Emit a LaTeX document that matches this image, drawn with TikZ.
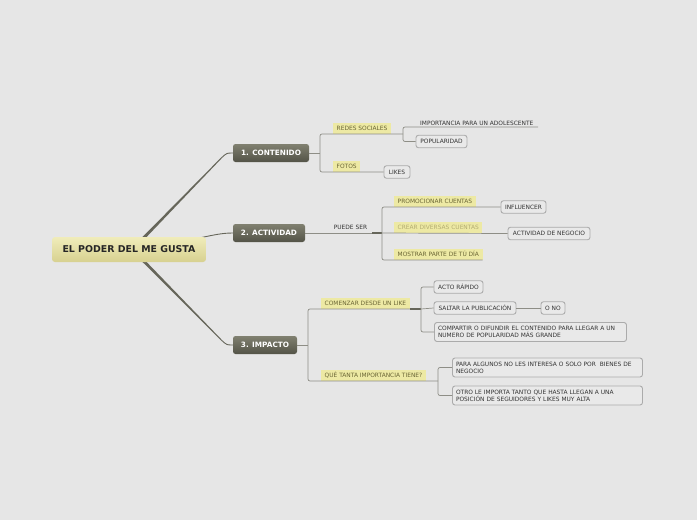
\documentclass[tikz,border=0pt]{standalone}
\usepackage{fontspec}
\setmainfont{DejaVu Sans}
\usetikzlibrary{calc}
\definecolor{bgc}{HTML}{E6E6E6}
\definecolor{lblfill}{HTML}{EDE9A4}
\definecolor{lbltext}{HTML}{6A6535}
\definecolor{fadetext}{HTML}{B3AC72}
\definecolor{boxfill}{HTML}{E9E9E9}
\definecolor{boxline}{HTML}{ABABAB}
\definecolor{lnc}{HTML}{8E8E86}
\definecolor{dark}{HTML}{333333}
\definecolor{trunkc}{HTML}{66665A}
\definecolor{mtop}{HTML}{808070}
\definecolor{mbot}{HTML}{535347}
\definecolor{ctop}{HTML}{F0ECBA}
\definecolor{cbot}{HTML}{D7D190}
\newcommand{\smallfont}{\fontsize{5.9}{7}\selectfont}
\tikzset{
  x=1pt, y=-1pt,
  central/.style={rounded corners=3pt, top color=ctop, bottom color=cbot, draw=none,
    minimum width=154pt, minimum height=25pt, inner sep=0pt,
    font=\bfseries\fontsize{9.4}{11}\selectfont, text=black!85},
  mainbox/.style={rounded corners=2.5pt, top color=mtop, bottom color=mbot, draw=none,
    minimum height=18pt, inner sep=0pt, text=white, font=\bfseries\fontsize{7.3}{9}\selectfont},
  lbl/.style={fill=lblfill, text=lbltext, font=\smallfont, inner xsep=3.5pt, inner ysep=0pt,
    minimum height=11pt, anchor=south west},
  plain/.style={text=dark, font=\smallfont, inner sep=0pt},
  gbox/.style={fill=boxfill, draw=boxline, line width=0.9pt, rounded corners=2.5pt,
    text=dark, font=\smallfont, inner xsep=3.5pt, inner ysep=0pt, minimum height=12.5pt},
  gbox2/.style={gbox, align=left, minimum height=19pt, text width=183pt},
  ln/.style={draw=lnc, line width=0.7pt},
  darkln/.style={draw=trunkc, line width=1.1pt},
  trunk/.style={draw=trunkc, line width=0.9pt},
  trunkfill/.style={fill=trunkc},
}
\begin{document}
\begin{tikzpicture}
\fill[bgc] (0,0) rectangle (697,520);
\useasboundingbox (0,0) rectangle (697,520);

% ---------- invisible main nodes first, so trunks can run beneath them
\node[central, opacity=0] (c) at (129,249.5) {EL PODER DEL ME GUSTA};
\node[mainbox, minimum width=76pt, opacity=0] (m1) at (271,153) {1. CONTENIDO};
\node[mainbox, minimum width=72pt, opacity=0] (m2) at (269,233) {2. ACTIVIDAD};
\node[mainbox, minimum width=64pt, opacity=0] (m3) at (265,345) {3. IMPACTO};

% ---------- trunk connectors (tapered)
\coordinate (c1) at ($(c.north west)+(91,2)$);
\coordinate (c1m) at ($(m1.west)+(-11,4.5)$);
\coordinate (c2) at ($(c.north east)+(-6,1)$);
\coordinate (c3) at ($(c.south west)+(91,-2)$);
\coordinate (c3m) at ($(m3.west)+(-11,-4.5)$);
\fill[trunkfill] ($(c1)+(-1.05,-1.05)$) -- ($(c1m)+(-0.33,-0.33)$) -- ($(c1m)+(0.33,0.33)$) -- ($(c1)+(1.05,1.05)$) -- cycle;
\draw[trunk] (c1m) .. controls ($(m1.west)+(-6,0)$) .. (m1.west);
\draw[trunk] (c2) .. controls ($(c2)+(14,-3)$) and ($(m2.west)+(-10,0)$) .. (m2.west);
\fill[trunkfill] ($(c3)+(1.05,-1.05)$) -- ($(c3m)+(0.33,-0.33)$) -- ($(c3m)+(-0.33,0.33)$) -- ($(c3)+(-1.05,1.05)$) -- cycle;
\draw[trunk] (c3m) .. controls ($(m3.west)+(-6,0)$) .. (m3.west);

% ---------- main nodes
\node[central] at (c) {EL PODER DEL ME GUSTA};
\node[mainbox, minimum width=76pt] at (m1) {1. CONTENIDO};
\node[mainbox, minimum width=72pt] at (m2) {2. ACTIVIDAD};
\node[mainbox, minimum width=64pt] at (m3) {3. IMPACTO};

% ---------- 1. CONTENIDO
\node[lbl] (l1) at (333,134) {REDES SOCIALES};
\node[lbl] (l2) at (333,172) {FOTOS};
\node[plain, anchor=south west] (imp) at (420,125.5) {IMPORTANCIA PARA UN ADOLESCENTE};
\node[gbox, minimum width=51pt] (pop) at (441.5,141.5) {POPULARIDAD};
\node[gbox, minimum width=26pt] (lik) at (397,172) {LIKES};
\coordinate (j1) at (320,153);
\coordinate (j1t) at (320,134);
\coordinate (j2) at (403,134);
\coordinate (j2t) at (403,127);
\coordinate (impe) at (538,127);
\draw[ln] (m1.east) -- (j1);
\draw[ln, rounded corners=2pt] (j2) -- (j1t) -- (j1 |- lik.west) -- (lik.west);
\draw[ln, rounded corners=2pt] (impe) -- (j2t) -- (j2 |- pop.west) -- (pop.west);

% ---------- 2. ACTIVIDAD
\node[plain] (ps) at (350.5,227.5) {PUEDE SER};
\node[lbl] (a1) at (394,207) {PROMOCIONAR CUENTAS};
\node[lbl, text=fadetext] (a2) at (394,233) {CREAR DIVERSAS CUENTAS};
\node[lbl] (a3) at (394,260) {MOSTRAR PARTE DE TÚ DÍA};
\node[gbox, minimum width=45pt] (inf) at (523.5,207) {INFLUENCER};
\node[gbox, minimum width=82pt] (neg) at (549,233.5) {ACTIVIDAD DE NEGOCIO};
\coordinate (k) at (382,233);
\coordinate (kd) at (372,233);
\draw[ln] (m2.east) -- (k);
\draw[darkln] (kd) -- (k);
\draw[ln, rounded corners=2pt] (inf.west) -- (k |- inf.west) -- (k |- a3.south) -- (a3.south east);
\draw[ln] (k) -- (neg.west);

% ---------- 3. IMPACTO
\node[lbl] (i1) at (321,309) {COMENZAR DESDE UN LIKE};
\node[lbl] (i2) at (321,381) {QUÉ TANTA IMPORTANCIA TIENE?};
\node[gbox, minimum width=49pt] (act) at (458.5,287) {ACTO RÁPIDO};
\node[gbox, minimum width=82pt] (sal) at (475,308) {SALTAR LA PUBLICACIÓN};
\node[gbox, minimum width=24pt] (ono) at (553,308) {O NO};
\node[gbox2, text width=185pt] (cmp) at (530.5,332) {COMPARTIR O DIFUNDIR EL CONTENIDO PARA LLEGAR A UN\\NUMERO DE POPULARIDAD MÁS GRANDE};
\node[gbox2] (p1) at (547.5,367.5) {PARA ALGUNOS NO LES INTERESA O SOLO POR \ BIENES DE\\NEGOCIO};
\node[gbox2] (p2) at (547.5,395.5) {OTRO LE IMPORTA TANTO QUE HASTA LLEGAN A UNA\\POSICIÓN DE SEGUIDORES Y LIKES MUY ALTA};
\coordinate (g) at (308,345);
\coordinate (h) at (421,309);
\coordinate (hd) at (410,309);
\coordinate (q) at (438,381);
\draw[ln] (m3.east) -- (g);
\draw[ln, rounded corners=2pt] (h) -- (g |- h) -- (g |- q) -- (q);
\draw[darkln] (hd) -- (h);
\draw[ln, rounded corners=2pt] (act.west) -- (h |- act.west) -- (h |- cmp.west) -- (cmp.west);
\draw[ln] (h) -- (sal.west);
\draw[ln] (sal.east) -- (ono.west);
\draw[ln, rounded corners=2pt] (p1.west) -- (q |- p1.west) -- (q |- p2.west) -- (p2.west);

\end{tikzpicture}
\end{document}
